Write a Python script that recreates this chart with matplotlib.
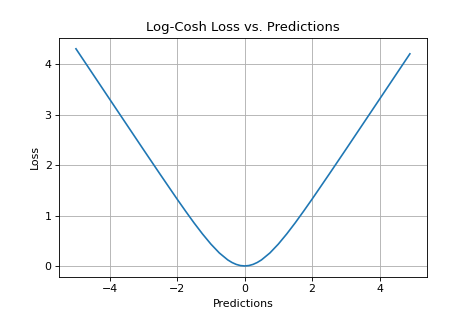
import matplotlib
matplotlib.use("Agg")
import matplotlib.pyplot as plt

predictions = [-5.0, -4.5, -4.0, -3.5, -3.0, -2.5, -2.0, -1.75, -1.5, -1.25, -1.0, -0.75,
               -0.5, -0.375, -0.25, -0.125, 0.0, 0.125, 0.25, 0.375, 0.5, 0.75, 1.0, 1.25,
               1.5, 1.75, 2.0, 2.5, 3.0, 3.5, 4.0, 4.5, 4.9]
loss = [4.307, 3.807, 3.307, 2.808, 2.309, 1.814, 1.325, 1.087, 0.855, 0.636, 0.434, 0.258,
        0.120, 0.069, 0.031, 0.008, 0.0, 0.008, 0.031, 0.069, 0.120, 0.258, 0.434, 0.636,
        0.855, 1.087, 1.325, 1.814, 2.309, 2.808, 3.307, 3.807, 4.207]

fig, ax = plt.subplots(figsize=(6, 4), dpi=79)
fig.subplots_adjust(left=0.125, right=0.9, top=0.88, bottom=0.124)
ax.plot(predictions, loss, color="#1f77b4")
ax.set_title("Log-Cosh Loss vs. Predictions")
ax.set_xlabel("Predictions")
ax.set_ylabel("Loss")
ax.grid(True)
fig.savefig("out.png", dpi=79)
